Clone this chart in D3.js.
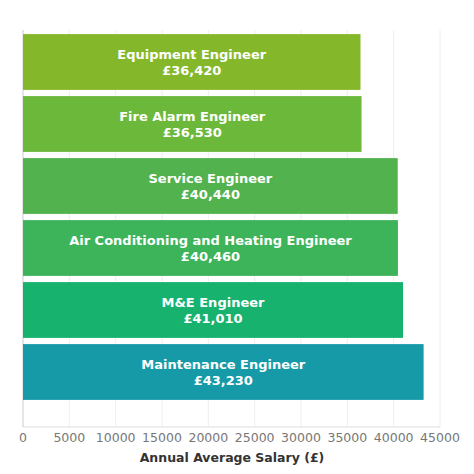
<!DOCTYPE html>
<html><head><meta charset="utf-8">
<script src="https://cdn.jsdelivr.net/npm/d3@7"></script>
<style>body{margin:0;background:#fff}</style></head>
<body><svg id="chart" width="474" height="474"></svg>
<script>
const jobs = ["Equipment Engineer","Fire Alarm Engineer","Service Engineer","Air Conditioning and Heating Engineer","M&E Engineer","Maintenance Engineer"];
const salaries = [36420, 36530, 40440, 40460, 41010, 43230];
const colours = ["#84b82a","#6cb83a","#52b24e","#3db45a","#18b26f","#169aa8"];
const ticks = [0,5000,10000,15000,20000,25000,30000,35000,40000,45000];

const svg = d3.select("#chart");
const x = d3.scaleLinear().domain([0, 45000]).range([23, 440]);
const y = d3.scaleBand().domain(jobs).range([31, 403]).paddingInner(0.1).paddingOuter(0.05);

// grid
svg.selectAll(".grid").data(ticks).enter().append("line")
    .attr("x1", d => x(d)).attr("x2", d => x(d))
    .attr("y1", 30).attr("y2", 427)
    .attr("stroke", d => d === 0 ? "#ccc" : "#eee");
svg.append("line").attr("x1", 23).attr("x2", 440).attr("y1", 427).attr("y2", 427).attr("stroke", "#ddd");

svg.selectAll(".tick-label").data(ticks).enter().append("text")
    .attr("x", d => x(d)).attr("y", 442)
    .attr("text-anchor", "middle")
    .attr("font-family", "DejaVu Sans").attr("font-size", 12.5)
    .attr("fill", "#777").text(d => d);

svg.append("text").attr("x", 232).attr("y", 462).attr("text-anchor", "middle")
    .attr("font-family", "DejaVu Sans").attr("font-size", 12.5).attr("font-weight", "bold")
    .attr("fill", "#333").text("Annual Average Salary (£)");

const bars = svg.selectAll(".bar").data(jobs).enter().append("g").attr("class", "bar");
bars.append("rect")
    .attr("x", x(0)).attr("y", d => y(d))
    .attr("width", (d, i) => x(salaries[i]) - x(0))
    .attr("height", y.bandwidth())
    .attr("fill", (d, i) => colours[i]);
bars.append("text")
    .attr("x", (d, i) => (x(0) + x(salaries[i])) / 2)
    .attr("y", d => y(d) + y.bandwidth() / 2 - 3)
    .attr("text-anchor", "middle")
    .attr("font-family", "DejaVu Sans").attr("font-size", 13).attr("font-weight", "bold")
    .attr("fill", "#fff").text(d => d);
bars.append("text")
    .attr("x", (d, i) => (x(0) + x(salaries[i])) / 2)
    .attr("y", d => y(d) + y.bandwidth() / 2 + 13)
    .attr("text-anchor", "middle")
    .attr("font-family", "DejaVu Sans").attr("font-size", 13).attr("font-weight", "bold")
    .attr("fill", "#fff").text((d, i) => "£" + d3.format(",")(salaries[i]));
</script></body></html>
